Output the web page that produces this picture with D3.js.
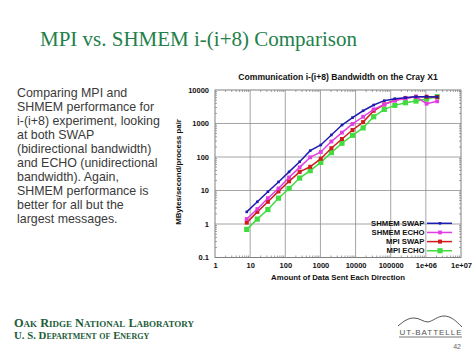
<!DOCTYPE html>
<html><head><meta charset="utf-8">
<script src="https://cdnjs.cloudflare.com/ajax/libs/d3/7.8.5/d3.min.js"></script>
<style>body{margin:0;background:#fff}svg{display:block}</style>
</head><body>
<svg id="c" width="474" height="355"></svg>
<script>
const sizes = [8,16,32,64,128,256,512,1024,2048,4096,8192,16384,32768,65536,131072,262144,524288,1048576,2097152];
const shmemSwap = [2.3,4.6,9.2,18,36,72,155,228,455,900,1500,2400,3560,4800,5500,5900,6300,6300,6200];
const shmemEcho = [1.41,2.8,5.9,11.5,24.5,49,98,141,290,535,970,1590,2640,3720,4800,5650,6300,3900,4600];
const mpiSwap = [1.1,2.3,4.6,9.4,18.8,36,51,89,183,345,640,1100,2400,3720,5000,5800,6300,6300,6200];
const mpiEcho = [0.69,1.4,2.7,5.9,11.5,23.5,39,69,135,257,445,740,1590,2640,3480,4170,4680,5370,6300];
const seriesNames = ["SHMEM SWAP","SHMEM ECHO","MPI SWAP","MPI ECHO"];
const xTicks = [1,10,100,1000,10000,100000,1e6,1e7];
const xTickLabels = ["1","10","100","1000","10000","100000","1e+06","1e+07"];
const yTicks = [0.1,1,10,100,1000,10000];
const yTickLabels = ["0.1","1","10","100","1000","10000"];
const bullets = ["Comparing MPI and","SHMEM performance for","i-(i+8) experiment, looking","at both SWAP","(bidirectional bandwidth)","and ECHO (unidirectional","bandwidth). Again,","SHMEM performance is","better for all but the","largest messages."];

const svg = d3.select("#c");
const green = "#23804a";

// Slide title
svg.append("text").attr("x",40).attr("y",46).attr("font-family","Liberation Serif, serif")
  .attr("font-size",21).attr("fill",green).text("MPI vs. SHMEM i-(i+8) Comparison");

// Left paragraph
svg.append("g").selectAll("text").data(bullets).join("text")
  .attr("x",17).attr("y",(d,i)=>96.5+i*14.05)
  .attr("font-family","Liberation Sans, Arial, sans-serif").attr("font-size",12.4).attr("fill","#3a3a3a")
  .text(d=>d);

// Chart
const x = d3.scaleLog().domain([1,1e7]).range([215,461]);
const y = d3.scaleLog().domain([0.1,1e4]).range([257.5,90]);
const L=215,R=461,T=90,B=257.5;
const g = svg.append("g");
const f = "Liberation Sans, Arial, sans-serif";

// grid
g.selectAll(".gx").data(xTicks.slice(1,-1)).join("line")
  .attr("x1",d=>x(d)).attr("x2",d=>x(d)).attr("y1",T).attr("y2",B).attr("stroke","#8e8e8e").attr("stroke-width",0.8);
g.selectAll(".gy").data(yTicks.slice(1,-1)).join("line")
  .attr("y1",d=>y(d)).attr("y2",d=>y(d)).attr("x1",L).attr("x2",R).attr("stroke","#8e8e8e").attr("stroke-width",0.8);

// minor ticks
const xMinor=[], yMinor=[];
for (let e=0;e<7;e++) for (let k=2;k<10;k++) xMinor.push(k*Math.pow(10,e));
for (let e=-1;e<4;e++) for (let k=2;k<10;k++) yMinor.push(k*Math.pow(10,e));
const tk = g.append("g").attr("stroke","#777").attr("stroke-width",0.7);
xMinor.forEach(v=>{tk.append("line").attr("x1",x(v)).attr("x2",x(v)).attr("y1",B).attr("y2",B-2);
  tk.append("line").attr("x1",x(v)).attr("x2",x(v)).attr("y1",T).attr("y2",T+2);});
yMinor.forEach(v=>{tk.append("line").attr("y1",y(v)).attr("y2",y(v)).attr("x1",L).attr("x2",L+2);
  tk.append("line").attr("y1",y(v)).attr("y2",y(v)).attr("x1",R).attr("x2",R-2);});

// frame
g.append("rect").attr("x",L).attr("y",T).attr("width",R-L).attr("height",B-T)
  .attr("fill","none").attr("stroke","#808080").attr("stroke-width",1);

// axes labels via d3 axes
const xAxis = d3.axisBottom(x).tickValues(xTicks).tickFormat((d,i)=>xTickLabels[i]).tickSize(0).tickPadding(5);
const ax = g.append("g").attr("transform",`translate(0,${B})`).call(xAxis);
ax.select(".domain").remove();
ax.selectAll("text").attr("font-family",f).attr("font-size",7.5).attr("font-weight","bold").attr("fill","#111");
const yAxis = d3.axisLeft(y).tickValues(yTicks).tickFormat((d,i)=>yTickLabels[i]).tickSize(0).tickPadding(6);
const ay = g.append("g").attr("transform",`translate(${L},0)`).call(yAxis);
ay.select(".domain").remove();
ay.selectAll("text").attr("font-family",f).attr("font-size",7.5).attr("font-weight","bold").attr("fill","#111");

// titles
g.append("text").attr("x",338).attr("y",80).attr("text-anchor","middle").attr("font-family",f)
  .attr("font-size",8.6).attr("font-weight","bold").attr("fill","#111").text("Communication i-(i+8)  Bandwidth on the Cray X1");
g.append("text").attr("x",338).attr("y",279.5).attr("text-anchor","middle").attr("font-family",f)
  .attr("font-size",7.8).attr("font-weight","bold").attr("fill","#111").text("Amount of Data Sent Each Direction");
g.append("text").attr("transform","translate(181,172) rotate(-90)").attr("text-anchor","middle").attr("font-family",f)
  .attr("font-size",7.8).attr("font-weight","bold").attr("fill","#111").text("MBytes/second/process pair");

// series
const series = [
  {name:seriesNames[0], vals:shmemSwap, color:"#1c1cb0", m:1.3},
  {name:seriesNames[1], vals:shmemEcho, color:"#e23ce2", m:1.9},
  {name:seriesNames[2], vals:mpiSwap, color:"#d01c1c", m:2.0},
  {name:seriesNames[3], vals:mpiEcho, color:"#40dc40", m:2.6}
];
const line = d3.line().x(d=>x(d[0])).y(d=>y(d[1]));
series.slice().reverse().forEach(s=>{
  const pts = sizes.map((v,i)=>[v,s.vals[i]]);
  g.append("path").attr("d",line(pts)).attr("fill","none").attr("stroke",s.color).attr("stroke-width",1.5);
  g.append("g").selectAll("rect").data(pts).join("rect")
    .attr("x",d=>x(d[0])-s.m).attr("y",d=>y(d[1])-s.m).attr("width",2*s.m).attr("height",2*s.m).attr("fill",s.color);
});

// legend
series.forEach((s,i)=>{
  const ly = 223.3 + i*9.15;
  g.append("text").attr("x",424.5).attr("y",ly+2.7).attr("text-anchor","end").attr("font-family",f)
    .attr("font-size",7.7).attr("font-weight","bold").attr("fill","#111").text(s.name);
  g.append("line").attr("x1",427).attr("x2",452).attr("y1",ly).attr("y2",ly).attr("stroke",s.color).attr("stroke-width",1.5);
  g.append("rect").attr("x",440-s.m).attr("y",ly-s.m).attr("width",2*s.m).attr("height",2*s.m).attr("fill",s.color);
});

// footer
const fg = "#1d5c38";
const ft = svg.append("g").attr("font-family","Liberation Serif, serif").attr("font-weight","bold").attr("fill",fg);
ft.append("text").attr("x",14).attr("y",326.5).attr("font-size",12.3).style("font-variant","small-caps").text("Oak Ridge National Laboratory");
ft.append("text").attr("x",14).attr("y",338.5).attr("font-size",10.8).style("font-variant","small-caps").text("U. S. Department of Energy");

// UT-Battelle logo
const lg = svg.append("g");
lg.append("path").attr("d","M398,326 C404,321 408,318 414,318 C420,318 423,322 428,322 C433,321 438,316 444,316 C451,316 456,321 462,327")
  .attr("fill","none").attr("stroke","#555").attr("stroke-width",1);
lg.append("text").attr("x",430.5).attr("y",335).attr("text-anchor","middle").attr("font-family",f).attr("font-size",8)
  .attr("fill","#555").attr("textLength",62).text("UT-BATTELLE");
lg.append("line").attr("x1",399).attr("x2",462).attr("y1",337).attr("y2",337).attr("stroke","#555").attr("stroke-width",0.8);
svg.append("text").attr("x",461).attr("y",349).attr("text-anchor","end").attr("font-family",f).attr("font-size",7).attr("fill","#666").text("42");
</script>
</body></html>
